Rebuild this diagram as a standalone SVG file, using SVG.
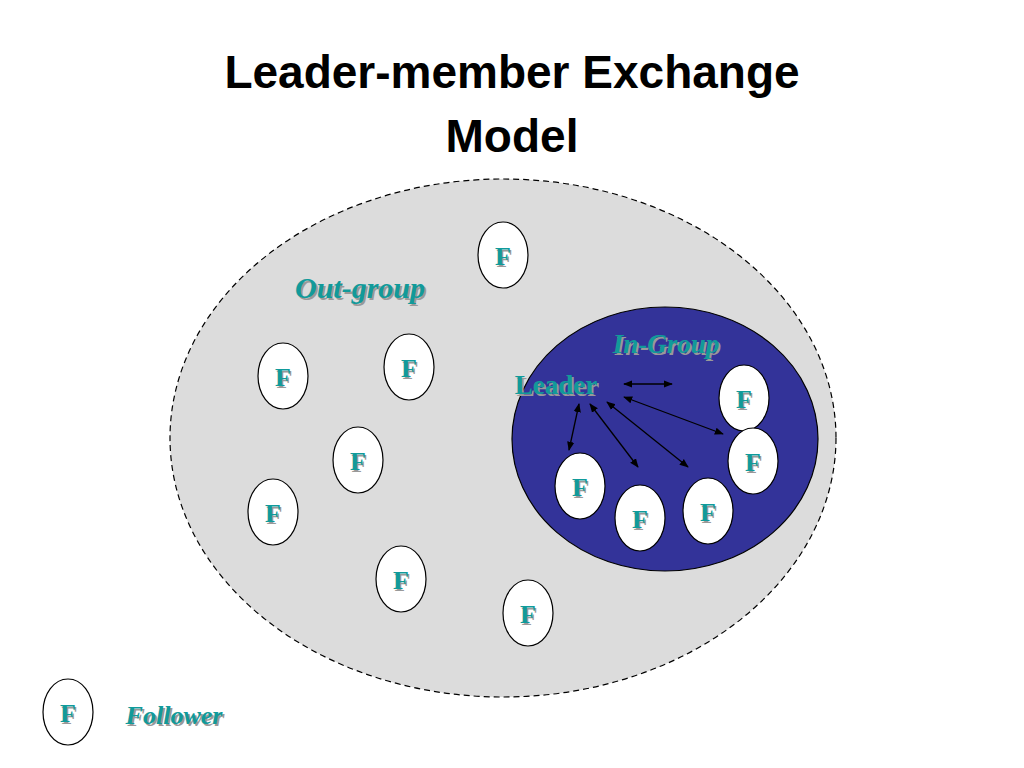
<svg xmlns="http://www.w3.org/2000/svg" width="1024" height="768" viewBox="0 0 1024 768">
<style>
.t{font-family:"Liberation Serif",serif;font-weight:bold;fill:#119a9a}
.s{font-family:"Liberation Serif",serif;font-weight:bold;fill:#999}
.f{fill:#fff;stroke:#000;stroke-width:1.2}
.c{stroke:#000;stroke-width:1.3;marker-start:url(#a);marker-end:url(#a)}
</style>
<defs>
<marker id="a" viewBox="0 0 10 10" refX="9" refY="5" markerWidth="7" markerHeight="7" orient="auto-start-reverse"><path d="M0,1 L10,5 L0,9 z" fill="#000"/></marker>
<g id="fnode"><ellipse class="f" cx="0" cy="0" rx="25" ry="33"/><text class="s" x="1.5" y="11.5" font-size="26" text-anchor="middle">F</text><text class="t" x="0" y="10" font-size="26" text-anchor="middle">F</text></g>
</defs>
<rect width="1024" height="768" fill="#fff"/>
<text x="512" y="88" font-family="Liberation Sans,sans-serif" font-weight="bold" font-size="46" text-anchor="middle">Leader-member Exchange</text>
<text x="512" y="152" font-family="Liberation Sans,sans-serif" font-weight="bold" font-size="46" text-anchor="middle">Model</text>
<g id="outgroup"><ellipse cx="503" cy="438" rx="333" ry="259" fill="#dcdcdc" stroke="#000" stroke-width="1.2" stroke-dasharray="6,4"/>
<text class="s" x="362" y="300" font-size="30" font-style="italic" text-anchor="middle">Out-group</text><text class="t" x="360" y="298" font-size="30" font-style="italic" text-anchor="middle">Out-group</text></g>
<g id="ingroup"><ellipse cx="665" cy="439" rx="153" ry="132" fill="#333399" stroke="#000" stroke-width="1.2"/>
<text class="s" x="668" y="355" font-size="27" font-style="italic" text-anchor="middle">In-Group</text><text class="t" x="666" y="353" font-size="27" font-style="italic" text-anchor="middle">In-Group</text></g>
<g id="leader"><text class="s" x="558" y="396" font-size="27" text-anchor="middle">Leader</text><text class="t" x="556" y="394" font-size="27" text-anchor="middle">Leader</text></g>
<g id="f1"><use href="#fnode" x="503" y="255"/></g>
<g id="f2"><use href="#fnode" x="283" y="376"/></g>
<g id="f3"><use href="#fnode" x="409" y="367"/></g>
<g id="f4"><use href="#fnode" x="358" y="460"/></g>
<g id="f5"><use href="#fnode" x="273" y="512"/></g>
<g id="f6"><use href="#fnode" x="401" y="579"/></g>
<g id="f7"><use href="#fnode" x="528" y="613"/></g>
<g id="f8"><use href="#fnode" x="744" y="398"/></g>
<g id="f9"><use href="#fnode" x="753" y="461"/></g>
<g id="f10"><use href="#fnode" x="580" y="486"/></g>
<g id="f11"><use href="#fnode" x="640" y="518"/></g>
<g id="f12"><use href="#fnode" x="708" y="511"/></g>
<g id="connectors">
<line class="c" x1="624" y1="384" x2="672" y2="384"/>
<line class="c" x1="624" y1="397" x2="723" y2="434"/>
<line class="c" x1="579" y1="404" x2="569" y2="450"/>
<line class="c" x1="590" y1="404" x2="638" y2="467"/>
<line class="c" x1="607" y1="402" x2="688" y2="467"/>
</g>
<g id="legend"><use href="#fnode" x="68" y="712"/>
<text class="s" x="176" y="726" font-size="26" font-style="italic" text-anchor="middle">Follower</text><text class="t" x="174" y="724" font-size="26" font-style="italic" text-anchor="middle">Follower</text></g>
</svg>
